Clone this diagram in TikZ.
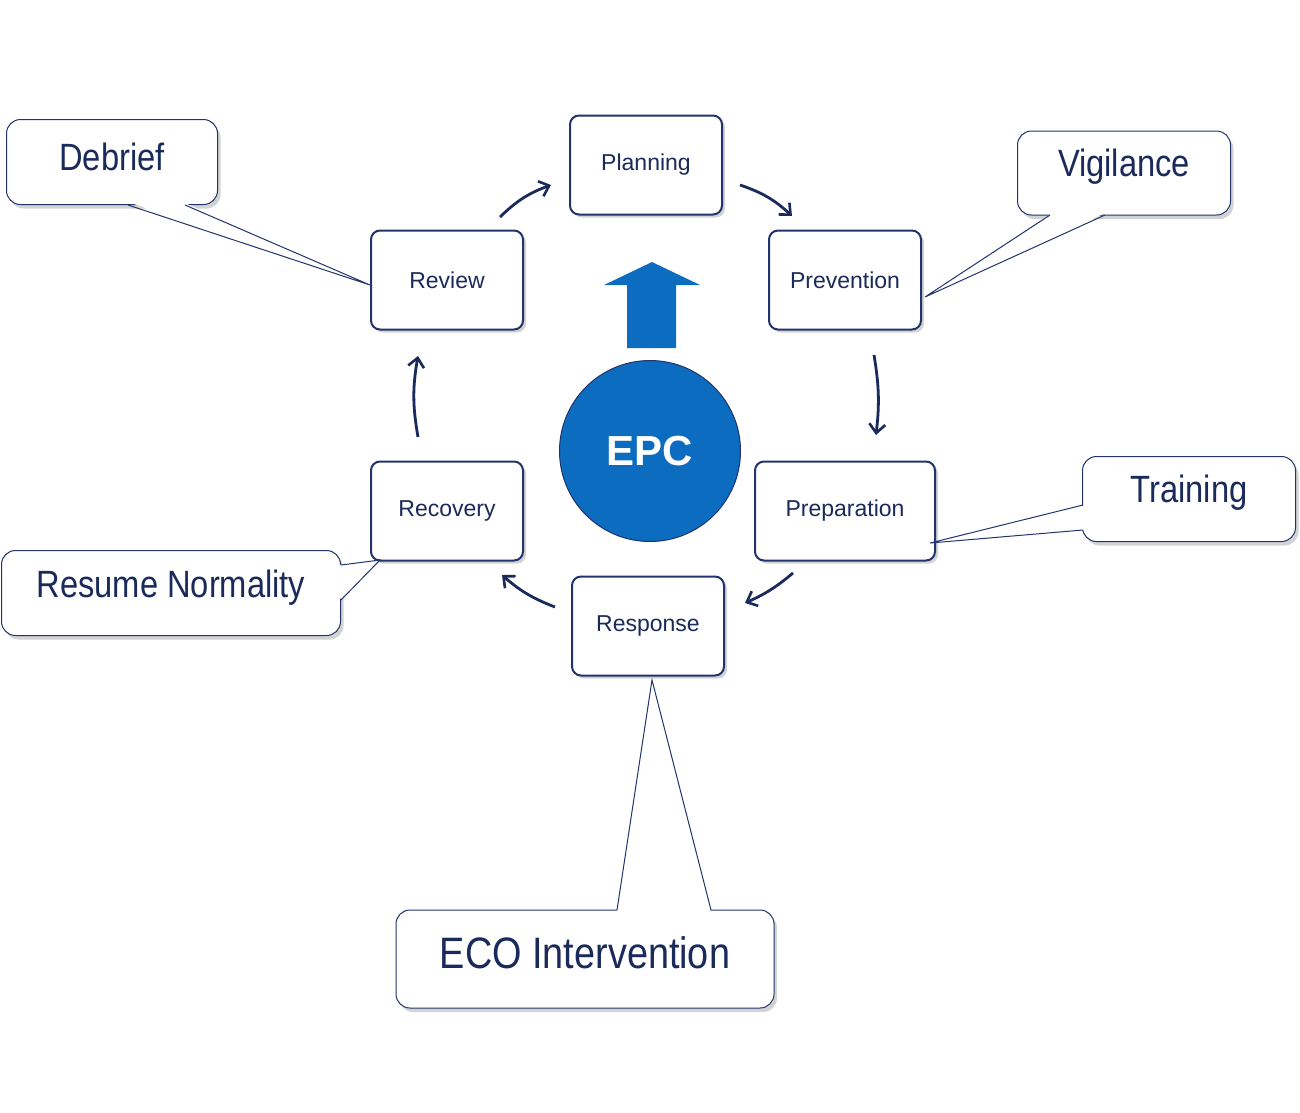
\documentclass[tikz,border=0pt]{standalone}
\usepackage{fontspec}
\setmainfont{Liberation Sans}
\usetikzlibrary{arrows.meta,shadows}
\definecolor{navy}{HTML}{1A2A5A}
\definecolor{bord}{HTML}{22346B}
\definecolor{epc}{HTML}{0B6CC0}
\begin{document}
\begin{tikzpicture}[x=1pt,y=-1pt,
 stage/.style={draw=bord,line width=2pt,rounded corners=9pt,fill=white,minimum width=152pt,minimum height=99pt,font=\fontsize{23}{25}\selectfont,text=navy,drop shadow={shadow xshift=3pt,shadow yshift=-3pt,opacity=.35}},
 cbox/.style={draw=bord,line width=1pt,rounded corners=14pt,fill=white,text=navy,drop shadow={shadow xshift=3pt,shadow yshift=-4pt,opacity=.35}},
 flow/.style={-{Straight Barb[length=9pt,width=16pt,line width=2.6pt]},line width=2.8pt,draw=navy}]
\useasboundingbox (0,0) rectangle (1300,1112);
% stages
\node[stage] (plan) at (646,165) {Planning};
\node[stage] (prev) at (845,280) {Prevention};
\node[stage,minimum width=180pt] (prep) at (845,511) {Preparation};
\node[stage] (resp) at (648,626) {Response};
\node[stage] (reco) at (447,511) {Recovery};
\node[stage] (revi) at (447,280) {Review};
% EPC
\node[circle,fill=epc,draw=bord,line width=1pt,minimum size=181pt,text=white,font=\bfseries\fontsize{42}{44}\selectfont] (epc) at (650,451) {EPC};
\fill[epc] (627,348) -- (627,285) -- (604,285) -- (652,262) -- (700,285) -- (676,285) -- (676,348) -- cycle;
% flow arrows
\coordinate (a1) at (740,185); \coordinate (a2) at (792,216);
\coordinate (b1) at (874,355); \coordinate (b2) at (876,435);
\coordinate (c1) at (793,573); \coordinate (c2) at (745,603);
\coordinate (d1) at (555,607); \coordinate (d2) at (502,575);
\coordinate (e1) at (418,437); \coordinate (e2) at (418,356);
\coordinate (f1) at (500,217); \coordinate (f2) at (551,185);
\draw[flow] (a1) to[bend left=12] (a2);
\draw[flow] (b1) to[bend left=8] (b2);
\draw[flow] (c1) to[bend left=8] (c2);
\draw[flow] (d1) to[bend left=10] (d2);
\draw[flow] (e1) to[bend left=10] (e2);
\draw[flow] (f1) to[bend left=12] (f2);
% callouts
\tikzset{ctext/.style={font=\fontsize{38}{40}\selectfont,xscale=.86}}
% Debrief
\node[cbox,minimum width=211pt,minimum height=85pt] (deb) at (112,162) {};
\coordinate (debt) at (370,285);
\fill[white] (131,203) -- (debt) -- (185,203) -- cycle;
\draw[bord,line width=1pt] (128,205) -- (debt) -- (185,205);
\node[ctext,text=navy] (debl) at (112,157) {Debrief};
% Vigilance
\node[cbox,minimum width=213pt,minimum height=84pt] (vig) at (1124,173) {};
\coordinate (vigt) at (925,297);
\fill[white] (1052,213) -- (vigt) -- (1105,213) -- cycle;
\draw[bord,line width=1pt] (1050,215) -- (vigt) -- (1105,215);
\node[ctext,text=navy] (vigl) at (1124,167) {Vigilance};
% Training
\node[cbox,minimum width=213pt,minimum height=85pt] (tra) at (1189,499) {};
\coordinate (trat) at (930,543);
\fill[white] (1085,505) -- (trat) -- (1085,530) -- cycle;
\draw[bord,line width=1pt] (1083,505) -- (trat) -- (1083,530);
\node[ctext,text=navy] (tral) at (1189,493) {Training};
% Resume Normality
\node[cbox,minimum width=339pt,minimum height=85pt] (res) at (171,593) {};
\coordinate (rest) at (380,560);
\fill[white] (339,565) -- (rest) -- (339,600) -- cycle;
\draw[bord,line width=1pt] (341,565) -- (rest) -- (341,600);
\node[ctext,text=navy] (resl) at (171,588) {Resume Normality};
% ECO Intervention
\node[cbox,minimum width=378pt,minimum height=98pt] (eco) at (585,959) {};
\coordinate (ecot) at (652,680);
\fill[white] (617,912) -- (ecot) -- (711,912) -- cycle;
\draw[bord,line width=1pt] (617,910) -- (ecot) -- (711,910);
\node[ctext,font=\fontsize{44}{46}\selectfont,text=navy] (ecol) at (585,953) {ECO Intervention};
\end{tikzpicture}
\end{document}
